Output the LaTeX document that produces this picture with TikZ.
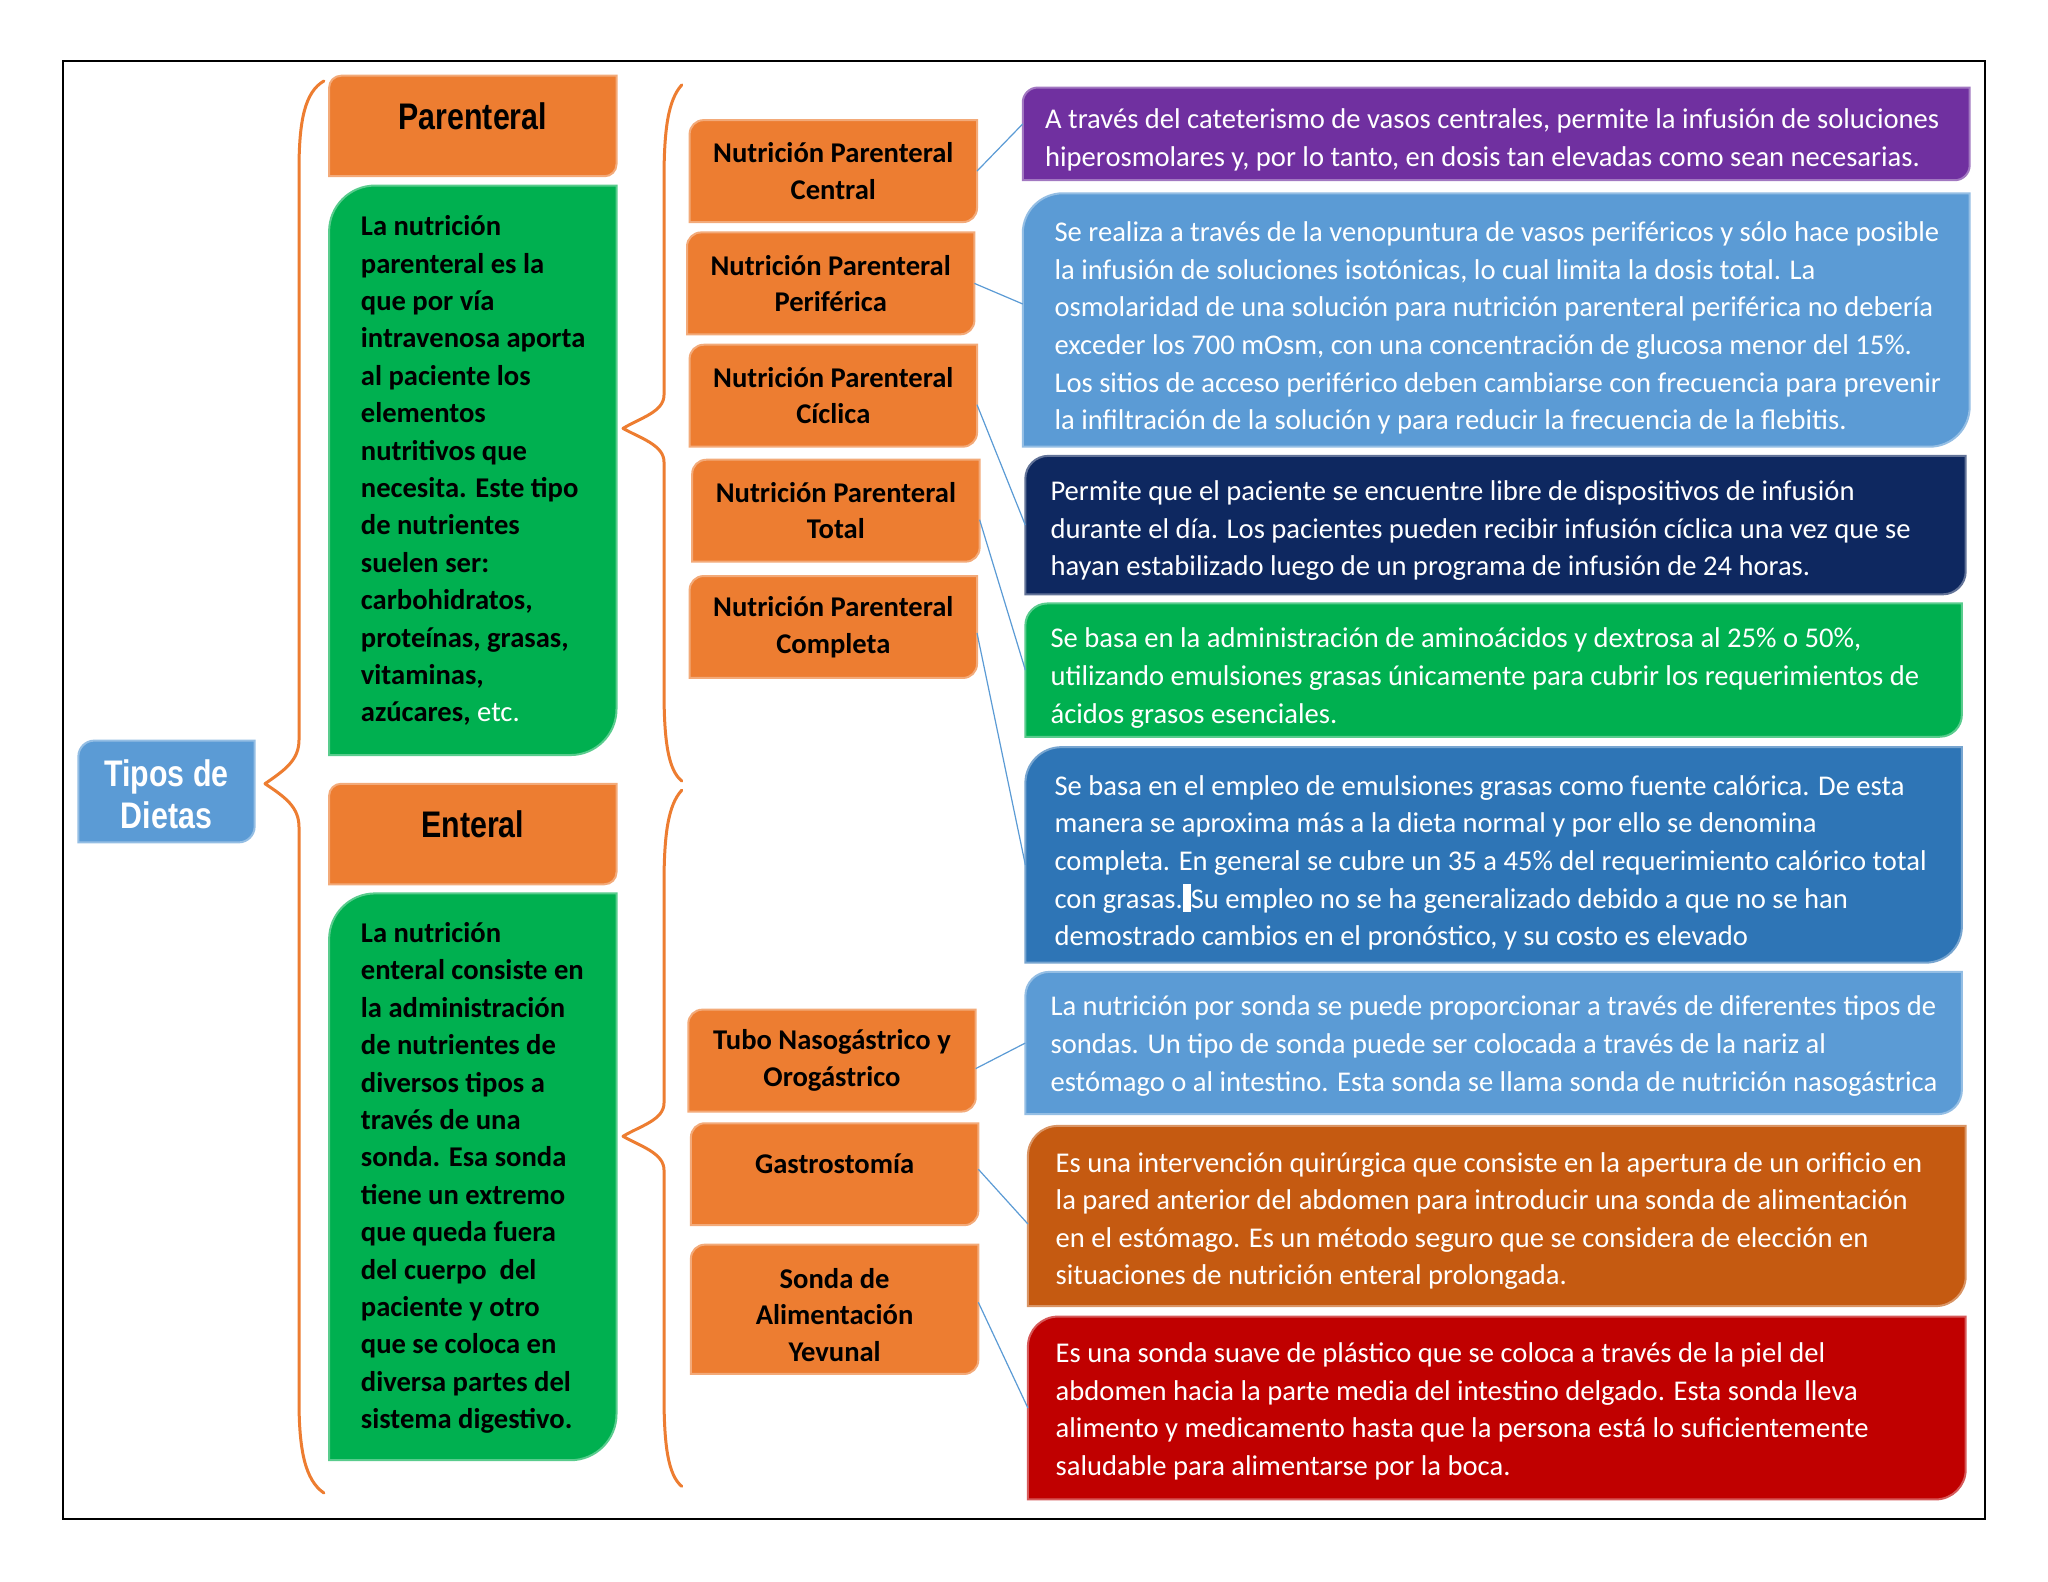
\documentclass[tikz,border=0pt]{standalone}
\usepackage{fontspec}
\setmainfont{Carlito}
\newfontfamily\hdr[FakeStretch=0.82]{Liberation Sans}
\usetikzlibrary{calc}
\definecolor{cOr}{HTML}{ED7D31}
\definecolor{cGr}{HTML}{00B050}
\definecolor{cPu}{HTML}{7030A0}
\definecolor{cLb}{HTML}{5B9BD5}
\definecolor{cNv}{HTML}{0E2860}
\definecolor{cBl}{HTML}{2E75B6}
\definecolor{cDo}{HTML}{C55A11}
\definecolor{cRd}{HTML}{C00000}
\newcommand\dgbox[3]{%
  \path[fill=#2, draw=#2!65!white, line width=1pt]
    ($(#1.north west)+(0,-#3)$) arc[start angle=180,end angle=90,radius=#3]
    -- (#1.north east) -- ($(#1.south east)+(0,#3)$)
    arc[start angle=0,end angle=-90,radius=#3] -- (#1.south west) -- cycle;}
\tikzset{
  bx/.style n args={2}{inner sep=0pt,outer sep=0pt,minimum width=#1*0.5pt,minimum height=#2*0.5pt},
  htxt/.style={inner sep=0pt,font=\hdr\bfseries\fontsize{18.5}{21}\selectfont,align=center},
  otxt/.style={inner sep=0pt,font=\fontsize{14.3}{18.3}\selectfont\bfseries,align=center},
  gtxt/.style={inner sep=0pt,anchor=west,font=\fontsize{14.3}{18.7}\selectfont\bfseries,align=left},
  dtxt/.style={inner sep=0pt,anchor=west,text=white,font=\fontsize{14.3}{18.8}\selectfont,align=left},
  conn/.style={draw=cLb,line width=0.6pt},
  brace/.style={draw=cOr,line width=1.5pt,line cap=round,line join=round}
}
\begin{document}
\begin{tikzpicture}[x=0.5pt,y=-0.5pt]
\useasboundingbox (0,0) rectangle (2048,1582);
\fill[white] (0,0) rectangle (2048,1582);
\draw[line width=1pt] (62.7,61.4) rectangle (1985.3,1519);

% ---- box nodes ----
\node[bx={176.3}{101.8}] (tip) at (166.5,791.5) {};
\node[bx={287.4}{100.5}] (h1) at (472.8,126) {};
\node[bx={287.4}{569.5}] (g1) at (472.8,470.3) {};
\node[bx={287.4}{100.5}] (h2) at (472.8,834) {};
\node[bx={287.4}{566.8}] (g2) at (472.8,1176.8) {};

\node[bx={287.4}{101.9}] (c1) at (833.3,171.1) {};
\node[bx={287.4}{101.9}] (c2) at (830.7,283.4) {};
\node[bx={287.4}{101.9}] (c3) at (833.3,395.7) {};
\node[bx={287.4}{101.9}] (c4) at (835.9,510.7) {};
\node[bx={287.4}{101.9}] (c5) at (833.3,627) {};
\node[bx={287.4}{101.9}] (e1) at (832,1060.6) {};
\node[bx={287.4}{101.9}] (e2) at (834.6,1174.2) {};
\node[bx={287.4}{129.3}] (e3) at (834.6,1309.3) {};

\node[bx={946.9}{92.7}] (d1) at (1496.2,133.9) {};
\node[bx={946.9}{253.4}] (d2) at (1496.2,320) {};
\node[bx={940.4}{138.5}] (d3) at (1495.5,525.1) {};
\node[bx={936.5}{133.3}] (d4) at (1493.6,670.1) {};
\node[bx={936.5}{215.5}] (d5) at (1493.6,854.9) {};
\node[bx={936.5}{142.3}] (d6) at (1493.6,1043) {};
\node[bx={937.8}{180.2}] (d7) at (1496.8,1216) {};
\node[bx={937.8}{182.8}] (d8) at (1496.8,1408) {};

% ---- fills ----
\dgbox{tip}{cLb}{8pt}
\dgbox{h1}{cOr}{6pt}
\dgbox{h2}{cOr}{6pt}
\dgbox{g1}{cGr}{23pt}
\dgbox{g2}{cGr}{23pt}
\foreach \n in {c1,c2,c3,c4,c5,e1,e2,e3} {\dgbox{\n}{cOr}{7pt}}
\dgbox{d1}{cPu}{7.5pt}
\dgbox{d2}{cLb}{20pt}
\dgbox{d3}{cNv}{11.5pt}
\dgbox{d4}{cGr}{11pt}
\dgbox{d5}{cBl}{18pt}
\dgbox{d6}{cLb}{12pt}
\dgbox{d7}{cDo}{15pt}
\dgbox{d8}{cRd}{15pt}

% ---- braces ----
\draw[brace] (323.9,81) .. controls (305,92) and (299,120) .. (299,170) -- (299,740)
  .. controls (299,760) and (285,770) .. (265,783.7)
  .. controls (285,797) and (299,807) .. (299,827) -- (299,1400)
  .. controls (299,1450) and (305,1480) .. (323.9,1493);
\draw[brace] (681.8,84.9) .. controls (668,100) and (664,130) .. (664,180) -- (664,395)
  .. controls (664,412) and (640,418) .. (623,428.4)
  .. controls (640,438) and (664,445) .. (664,462) -- (664,690)
  .. controls (664,740) and (668,770) .. (681.8,781);
\draw[brace] (681.8,790.2) .. controls (668,805) and (664,835) .. (664,885) -- (664,1103)
  .. controls (664,1120) and (640,1126) .. (623,1136.3)
  .. controls (640,1146) and (664,1153) .. (664,1170) -- (664,1395)
  .. controls (664,1445) and (668,1475) .. (681.8,1486.4);

% ---- texts ----
\node[htxt,text=white] (tipt) at ([yshift=-1.2pt]tip.center) {Tipos de\\Dietas};
\node[htxt] (h1t) at ([yshift=5pt]h1.center) {Parenteral};
\node[htxt] (h2t) at ([yshift=5pt]h2.center) {Enteral};

\node[gtxt] (g1t) at ([xshift=15.7pt,yshift=-0.2pt]g1.west) {La nutrición\\parenteral es la\\que por vía\\intravenosa aporta\\al paciente los\\elementos\\nutritivos que\\necesita. Este tipo\\de nutrientes\\suelen ser:\\carbohidratos,\\proteínas, grasas,\\vitaminas,\\azúcares, {\mdseries\color{white}etc.}};
\node[gtxt] (g2t) at ([xshift=15.7pt,yshift=-0.6pt]g2.west) {La nutrición\\enteral consiste en\\la administración\\de nutrientes de\\diversos tipos a\\través de una\\sonda. Esa sonda\\tiene un extremo\\que queda fuera\\del cuerpo\ \ del\\paciente y otro\\que se coloca en\\diversa partes del\\sistema digestivo.};

\node[otxt] (c1t) at ([yshift=0pt]c1.center) {Nutrición Parenteral\\Central};
\node[otxt] (c2t) at ([yshift=0pt]c2.center) {Nutrición Parenteral\\Periférica};
\node[otxt] (c3t) at ([yshift=0pt]c3.center) {Nutrición Parenteral\\Cíclica};
\node[otxt] (c4t) at ([yshift=0pt]c4.center) {Nutrición Parenteral\\Total};
\node[otxt] (c5t) at ([yshift=0pt]c5.center) {Nutrición Parenteral\\Completa};
\node[otxt] (e1t) at ([yshift=0pt]e1.center) {Tubo Nasogástrico y\\Orogástrico};
\node[otxt] (e2t) at ([yshift=5pt]e2.center) {Gastrostomía};
\node[otxt] (e3t) at ([yshift=-2.8pt]e3.center) {Sonda de\\Alimentación\\Yevunal};

\node[dtxt] (d1t) at ([xshift=11pt,yshift=-3pt]d1.west) {A través del cateterismo de vasos centrales, permite la infusión de soluciones\\hiperosmolares y, por lo tanto, en dosis tan elevadas como sean necesarias.};
\node[dtxt] (d2t) at ([xshift=15.7pt,yshift=-4pt]d2.west) {Se realiza a través de la venopuntura de vasos periféricos y sólo hace posible\\la infusión de soluciones isotónicas, lo cual limita la dosis total. La\\osmolaridad de una solución para nutrición parenteral periférica no debería\\exceder los 700 mOsm, con una concentración de glucosa menor del 15\%.\\Los sitios de acceso periférico deben cambiarse con frecuencia para prevenir\\la infiltración de la solución y para reducir la frecuencia de la flebitis.};
\node[dtxt] (d3t) at ([xshift=12.4pt,yshift=-2.8pt]d3.west) {Permite que el paciente se encuentre libre de dispositivos de infusión\\durante el día. Los pacientes pueden recibir infusión cíclica una vez que se\\hayan estabilizado luego de un programa de infusión de 24 horas.};
\node[dtxt] (d4t) at ([xshift=12.4pt,yshift=-4pt]d4.west) {Se basa en la administración de aminoácidos y dextrosa al 25\% o 50\%,\\utilizando emulsiones grasas únicamente para cubrir los requerimientos de\\ácidos grasos esenciales.};
\node[dtxt] (d5t) at ([xshift=14.4pt,yshift=-4pt]d5.west) {Se basa en el empleo de emulsiones grasas como fuente calórica. De esta\\manera se aproxima más a la dieta normal y por ello se denomina\\completa. En general se cubre un 35 a 45\% del requerimiento calórico total\\con grasas.{\color{white}\rule[-0.12em]{0.28em}{0.95em}}Su empleo no se ha generalizado debido a que no se han\\demostrado cambios en el pronóstico, y su costo es elevado};
\node[dtxt] (d6t) at ([xshift=12.4pt,yshift=-1.5pt]d6.west) {La nutrición por sonda se puede proporcionar a través de diferentes tipos de\\sondas. Un tipo de sonda puede ser colocada a través de la nariz al\\estómago o al intestino. Esta sonda se llama sonda de nutrición nasogástrica};
\node[dtxt] (d7t) at ([xshift=13.7pt,yshift=-2.5pt]d7.west) {Es una intervención quirúrgica que consiste en la apertura de un orificio en\\la pared anterior del abdomen para introducir una sonda de alimentación\\en el estómago. Es un método seguro que se considera de elección en\\situaciones de nutrición enteral prolongada.};
\node[dtxt] (d8t) at ([xshift=13.7pt,yshift=-1.7pt]d8.west) {Es una sonda suave de plástico que se coloca a través de la piel del\\abdomen hacia la parte media del intestino delgado. Esta sonda lleva\\alimento y medicamento hasta que la persona está lo suficientemente\\saludable para alimentarse por la boca.};

% ---- connectors ----
\draw[conn] (c1.east) -- ([yshift=5pt]d1.west);
\draw[conn] (c2.east) -- ([yshift=8pt]d2.west);
\draw[conn] ([yshift=-4.5pt]c3.east) -- (d3.west);
\draw[conn] ([yshift=-4.5pt]c4.east) -- (d4.west);
\draw[conn] ([yshift=-3pt]c5.east) -- ([yshift=-5pt]d5.west);
\draw[conn] ([yshift=-4pt]e1.east) -- (d6.west);
\draw[conn] ([yshift=2.5pt]e2.east) -- ([yshift=-4pt]d7.west);
\draw[conn] ([yshift=3.5pt]e3.east) -- (d8.west);
\end{tikzpicture}
\end{document}
